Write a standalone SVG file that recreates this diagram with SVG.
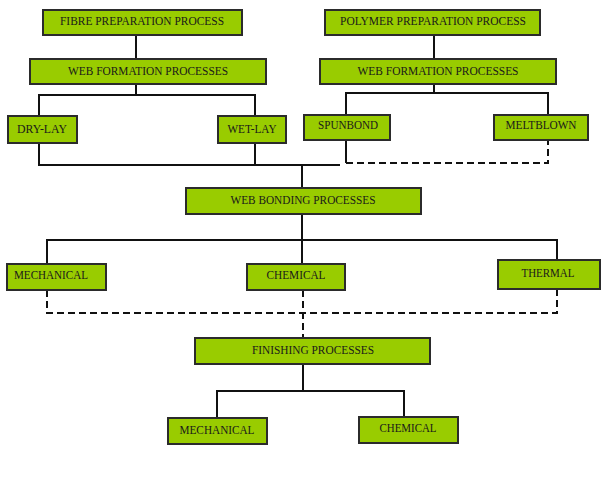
<svg xmlns="http://www.w3.org/2000/svg" width="609" height="497" viewBox="0 0 609 497">
<style>
.n rect{fill:#99cc00;stroke:#2b2b2b;stroke-width:2}
.n text{font-family:"Liberation Serif","Times New Roman",serif;font-size:13px;fill:#1a1a1a;text-anchor:middle}
.c path{fill:none;stroke:#111;stroke-width:2}
.c .d{stroke-dasharray:7 4}
</style>
<rect width="609" height="497" fill="#fff"/>
<g class="c">
<path d="M136 35V59M434 35V59"/>
<path d="M136 84V95M39 116V95H255V116"/>
<path d="M434 84V93M346 115V93H548V115"/>
<path d="M39 143V165H340M255 143V165M346 140V163M302 165V188"/>
<path class="d" d="M346 163H548V140"/>
<path d="M302 214V240M47 264V240H557V260M302 240V264"/>
<path class="d" d="M47 290V313H557V289M303 290V338"/>
<path d="M303 364V391M217 418V391H404V417"/>
</g>
<g class="n" id="fibre"><rect x="43" y="10" width="199" height="25"/><text x="142" y="25" textLength="164" lengthAdjust="spacingAndGlyphs">FIBRE PREPARATION PROCESS</text></g>
<g class="n" id="polymer"><rect x="325" y="10" width="215" height="25"/><text x="433" y="25" textLength="186" lengthAdjust="spacingAndGlyphs">POLYMER PREPARATION PROCESS</text></g>
<g class="n" id="webform1"><rect x="30" y="59" width="236" height="25"/><text x="148" y="75" textLength="160" lengthAdjust="spacingAndGlyphs">WEB FORMATION PROCESSES</text></g>
<g class="n" id="webform2"><rect x="320" y="59" width="236" height="25"/><text x="438" y="75" textLength="161" lengthAdjust="spacingAndGlyphs">WEB FORMATION PROCESSES</text></g>
<g class="n" id="drylay"><rect x="8" y="116" width="69" height="27"/><text x="42" y="133" textLength="50" lengthAdjust="spacingAndGlyphs">DRY-LAY</text></g>
<g class="n" id="wetlay"><rect x="218" y="116" width="68" height="27"/><text x="252" y="133" textLength="49" lengthAdjust="spacingAndGlyphs">WET-LAY</text></g>
<g class="n" id="spunbond"><rect x="304" y="115" width="86" height="25"/><text x="348" y="129" textLength="60" lengthAdjust="spacingAndGlyphs">SPUNBOND</text></g>
<g class="n" id="meltblown"><rect x="494" y="115" width="94" height="25"/><text x="541" y="129" textLength="71" lengthAdjust="spacingAndGlyphs">MELTBLOWN</text></g>
<g class="n" id="bonding"><rect x="186" y="188" width="235" height="26"/><text x="303" y="204" textLength="145" lengthAdjust="spacingAndGlyphs">WEB BONDING PROCESSES</text></g>
<g class="n" id="mech1"><rect x="7" y="264" width="99" height="26"/><text x="51" y="279" textLength="74" lengthAdjust="spacingAndGlyphs">MECHANICAL</text></g>
<g class="n" id="chem1"><rect x="247" y="264" width="98" height="26"/><text x="296" y="279" textLength="59" lengthAdjust="spacingAndGlyphs">CHEMICAL</text></g>
<g class="n" id="thermal"><rect x="498" y="260" width="102" height="29"/><text x="548" y="277" textLength="53" lengthAdjust="spacingAndGlyphs">THERMAL</text></g>
<g class="n" id="finishing"><rect x="195" y="338" width="235" height="26"/><text x="313" y="354" textLength="122" lengthAdjust="spacingAndGlyphs">FINISHING PROCESSES</text></g>
<g class="n" id="mech2"><rect x="168" y="418" width="99" height="26"/><text x="217" y="434" textLength="75" lengthAdjust="spacingAndGlyphs">MECHANICAL</text></g>
<g class="n" id="chem2"><rect x="359" y="417" width="99" height="26"/><text x="408" y="432" textLength="57" lengthAdjust="spacingAndGlyphs">CHEMICAL</text></g>
</svg>
